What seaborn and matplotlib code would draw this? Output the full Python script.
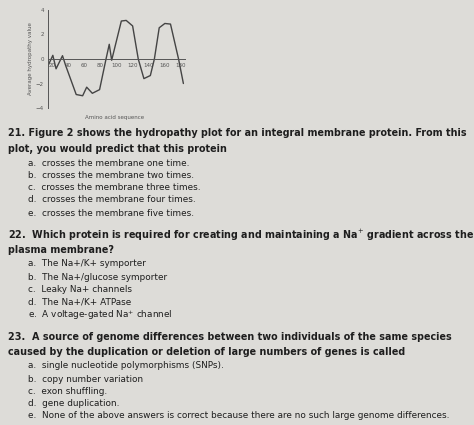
import matplotlib
matplotlib.use("Agg")
import matplotlib.pyplot as plt
import seaborn as sns
import pandas as pd

residue = [15, 21, 25, 33, 37, 50, 58, 63, 70, 79, 87, 91, 94, 106, 112, 120, 127, 134, 142, 147, 153, 160, 167, 177, 183]
hydropathy = [-0.55, 0.3, -0.8, 0.27, -0.55, -2.9, -3.0, -2.3, -2.8, -2.5, 0.0, 1.2, -0.1, 3.1, 3.15, 2.7, 0.0, -1.6, -1.35, 0.0, 2.55, 2.9, 2.85, 0.0, -2.0]
x_ticks = [20, 40, 60, 80, 100, 120, 140, 160, 180]
y_ticks = [-4, -2, 0, 2, 4]

df = pd.DataFrame({"residue": residue, "hydropathy": hydropathy})
sns.set_style("white")
bg = "#dddcd8"
fig = plt.figure(figsize=(4.74, 4.25), dpi=100, facecolor=bg)
W, H = 474, 425
ax = fig.add_axes([48 / W, 1 - 108 / H, 137 / W, 98 / H], facecolor=bg)
sns.lineplot(data=df, x="residue", y="hydropathy", ax=ax, color="#444", lw=1.0, sort=False)
ax.set_xlim(15, 185)
ax.set_ylim(-4, 4)
ax.set_xticks(x_ticks)
ax.set_yticks(y_ticks)
ax.tick_params(labelsize=4, colors="#555", length=2, pad=1)
for s in ["top", "right"]:
    ax.spines[s].set_visible(False)
ax.spines["bottom"].set_position(("data", 0))
for s in ["left", "bottom"]:
    ax.spines[s].set_color("#555")
    ax.spines[s].set_linewidth(0.7)
ax.set_xlabel("")
ax.set_ylabel("Average hydropathy value", fontsize=4, color="#555", labelpad=2)
fig.text(115 / W, 1 - 118 / H, "Amino acid sequence", fontsize=4, color="#555", ha="center", va="center")

c = "#1e1e1e"
lines = [
    (8, 133, "21. Figure 2 shows the hydropathy plot for an integral membrane protein. From this", True),
    (8, 149, "plot, you would predict that this protein", True),
    (28, 163, "a.  crosses the membrane one time.", False),
    (28, 176, "b.  crosses the membrane two times.", False),
    (28, 188, "c.  crosses the membrane three times.", False),
    (28, 200, "d.  crosses the membrane four times.", False),
    (28, 213, "e.  crosses the membrane five times.", False),
    (8, 235, "22.  Which protein is required for creating and maintaining a Na$^{+}$ gradient across the", True),
    (8, 250, "plasma membrane?", True),
    (28, 264, "a.  The Na+/K+ symporter", False),
    (28, 277, "b.  The Na+/glucose symporter", False),
    (28, 290, "c.  Leaky Na+ channels", False),
    (28, 302, "d.  The Na+/K+ ATPase", False),
    (28, 315, "e.  A voltage-gated Na$^{+}$ channel", False),
    (8, 337, "23.  A source of genome differences between two individuals of the same species", True),
    (8, 352, "caused by the duplication or deletion of large numbers of genes is called", True),
    (28, 366, "a.  single nucleotide polymorphisms (SNPs).", False),
    (28, 379, "b.  copy number variation", False),
    (28, 391, "c.  exon shuffling.", False),
    (28, 404, "d.  gene duplication.", False),
    (28, 416, "e.  None of the above answers is correct because there are no such large genome differences.", False),
]
for x, y, t, b in lines:
    fig.text(x / W, 1 - y / H, t, fontsize=6.9 if b else 6.4, fontweight="bold" if b else "normal",
             color=c, va="center", ha="left", family="DejaVu Sans")

fig.savefig("out.png", dpi=100, facecolor=bg)
